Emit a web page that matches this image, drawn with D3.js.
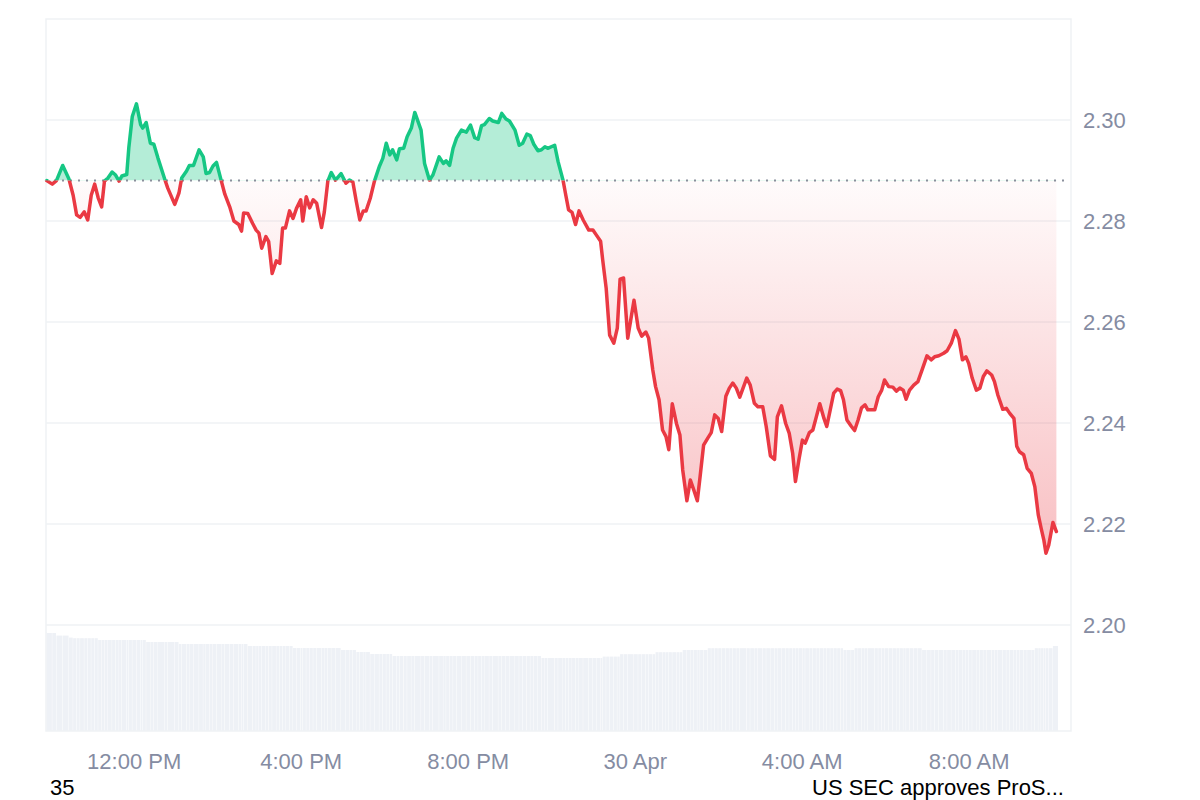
<!DOCTYPE html>
<html>
<head>
<meta charset="utf-8">
<script src="https://cdn.jsdelivr.net/npm/d3@7"></script>
<style>
  html, body { margin: 0; padding: 0; background: #ffffff; }
  svg { display: block; font-family: "Liberation Sans", Arial, sans-serif; }
</style>
</head>
<body>
<svg id="chart" width="1200" height="800"></svg>
<script>
// ---- data ----
const priceTimes = [
"29 09:55","29 10:03","29 10:09","29 10:18","29 10:27","29 10:33","29 10:38","29 10:43","29 10:49","29 10:54",
"29 10:59","29 11:04","29 11:09","29 11:14","29 11:18","29 11:23","29 11:29","29 11:34","29 11:39","29 11:43",
"29 11:50","29 11:53","29 11:58","29 12:04","29 12:10","29 12:13","29 12:18","29 12:24","29 12:29","29 12:35",
"29 12:45","29 12:49","29 12:59","29 13:05","29 13:09","29 13:16","29 13:20","29 13:26","29 13:34","29 13:40",
"29 13:44","29 13:49","29 13:54","29 13:59","29 14:06","29 14:11","29 14:18","29 14:24","29 14:31","29 14:35",
"29 14:38","29 14:44","29 14:51","29 14:56","29 15:00","29 15:04","29 15:10","29 15:14","29 15:19","29 15:25",
"29 15:30","29 15:34","29 15:38","29 15:44","29 15:49","29 15:54","29 16:00","29 16:03","29 16:08","29 16:13",
"29 16:18","29 16:23","29 16:30","29 16:34","29 16:39","29 16:44","29 16:50","29 16:58","29 17:05","29 17:10",
"29 17:15","29 17:20","29 17:25","29 17:30","29 17:34","29 17:40","29 17:46","29 17:53","29 17:58","29 18:03",
"29 18:08","29 18:12","29 18:18","29 18:22","29 18:28","29 18:33","29 18:39","29 18:44","29 18:53","29 18:58",
"29 19:05","29 19:10","29 19:19","29 19:25","29 19:29","29 19:34","29 19:39","29 19:44","29 19:51","29 19:58",
"29 20:04","29 20:10","29 20:15","29 20:20","29 20:24","29 20:31","29 20:36","29 20:44","29 20:49","29 20:55",
"29 21:00","29 21:08","29 21:14","29 21:19","29 21:25","29 21:30","29 21:35","29 21:41","29 21:46","29 21:51",
"29 21:55","29 22:05","29 22:10","29 22:17","29 22:21","29 22:25","29 22:30","29 22:35","29 22:40","29 22:46",
"29 22:54","29 23:00","29 23:05","29 23:11","29 23:14","29 23:19","29 23:24","29 23:30","29 23:35","29 23:39",
"29 23:44","29 23:50","29 23:59","30 00:05","30 00:10","30 00:16","30 00:20","30 00:26","30 00:30","30 00:35",
"30 00:40","30 00:45","30 00:49","30 00:54","30 01:00","30 01:05","30 01:09","30 01:15","30 01:20","30 01:25",
"30 01:30","30 01:34","30 01:39","30 01:45","30 01:50","30 01:55","30 02:00","30 02:05","30 02:11","30 02:16",
"30 02:21","30 02:26","30 02:31","30 02:41","30 02:46","30 02:52","30 02:57","30 03:04","30 03:09","30 03:15",
"30 03:21","30 03:25","30 03:31","30 03:37","30 03:42","30 03:47","30 03:51","30 03:56","30 04:01","30 04:05",
"30 04:11","30 04:16","30 04:21","30 04:26","30 04:32","30 04:36","30 04:41","30 04:46","30 04:51","30 04:56",
"30 05:00","30 05:05","30 05:11","30 05:16","30 05:21","30 05:26","30 05:31","30 05:35","30 05:45","30 05:50",
"30 05:55","30 05:59","30 06:05","30 06:11","30 06:16","30 06:21","30 06:26","30 06:30","30 06:35","30 06:41",
"30 06:47","30 06:53","30 07:00","30 07:06","30 07:11","30 07:17","30 07:24","30 07:29","30 07:35","30 07:41",
"30 07:46","30 07:51","30 07:56","30 08:00","30 08:05","30 08:11","30 08:16","30 08:21","30 08:26","30 08:33",
"30 08:37","30 08:42","30 08:49","30 08:54","30 08:59","30 09:05","30 09:09","30 09:13","30 09:19","30 09:24",
"30 09:30","30 09:35","30 09:40","30 09:44","30 09:48","30 09:51","30 09:55","30 10:01","30 10:06"
];
const prices = [
2.2880,2.2873,2.2880,2.2910,2.2883,2.2851,2.2812,2.2807,2.2818,2.2802,
2.2851,2.2873,2.2846,2.2828,2.2879,2.2885,2.2897,2.2891,2.2879,2.2889,
2.2892,2.2945,2.3007,2.3032,2.2991,2.2984,2.2995,2.2954,2.2952,2.2924,
2.2881,2.2865,2.2833,2.2855,2.2885,2.2899,2.2910,2.2910,2.2941,2.2927,
2.2894,2.2896,2.2909,2.2916,2.2879,2.2853,2.2828,2.2800,2.2793,2.2780,
2.2816,2.2815,2.2795,2.2782,2.2776,2.2746,2.2769,2.2759,2.2696,2.2721,
2.2716,2.2786,2.2786,2.2820,2.2805,2.2825,2.2842,2.2800,2.2848,2.2826,
2.2842,2.2835,2.2787,2.2818,2.2879,2.2896,2.2881,2.2894,2.2875,2.2881,
2.2877,2.2838,2.2802,2.2820,2.2820,2.2845,2.2879,2.2908,2.2924,2.2954,
2.2931,2.2941,2.2921,2.2943,2.2944,2.2967,2.2984,2.3015,2.2980,2.2914,
2.2881,2.2891,2.2927,2.2914,2.2919,2.2910,2.2944,2.2964,2.2980,2.2976,
2.2990,2.2965,2.2962,2.2989,2.2991,2.3003,2.2998,2.2995,2.3013,2.3002,
2.2998,2.2980,2.2950,2.2954,2.2972,2.2969,2.2952,2.2939,2.2941,2.2947,
2.2944,2.2950,2.2917,2.2881,2.2851,2.2822,2.2817,2.2793,2.2820,2.2802,
2.2782,2.2782,2.2772,2.2760,2.2723,2.2667,2.2574,2.2558,2.2588,2.2685,
2.2687,2.2568,2.2643,2.2588,2.2572,2.2580,2.2568,2.2505,2.2472,2.2446,
2.2386,2.2373,2.2347,2.2438,2.2399,2.2376,2.2307,2.2246,2.2287,2.2267,
2.2246,2.2294,2.2356,2.2370,2.2381,2.2416,2.2409,2.2383,2.2453,2.2469,
2.2479,2.2469,2.2451,2.2489,2.2475,2.2439,2.2432,2.2432,2.2393,2.2335,
2.2328,2.2412,2.2434,2.2399,2.2380,2.2340,2.2284,2.2327,2.2366,2.2360,
2.2381,2.2386,2.2412,2.2438,2.2409,2.2393,2.2426,2.2459,2.2467,2.2464,
2.2446,2.2406,2.2394,2.2385,2.2406,2.2430,2.2436,2.2426,2.2426,2.2452,
2.2465,2.2485,2.2472,2.2471,2.2463,2.2469,2.2465,2.2447,2.2465,2.2475,
2.2482,2.2505,2.2533,2.2525,2.2531,2.2533,2.2538,2.2543,2.2558,2.2583,
2.2566,2.2525,2.2531,2.2518,2.2489,2.2465,2.2469,2.2492,2.2503,2.2495,
2.2482,2.2455,2.2427,2.2429,2.2419,2.2409,2.2354,2.2343,2.2337,2.2310,
2.2300,2.2274,2.2218,2.2192,2.2168,2.2142,2.2158,2.2203,2.2185
];
const openPrice = 2.288;

// 24h volume (billions USD), step changes
const volTimes = [
"29 09:53","29 10:02","29 10:16","29 10:29","29 10:38","29 11:11","29 12:23","29 13:07","29 14:47","29 15:53",
"29 17:05","29 17:25","29 17:41","29 18:16","29 21:49","29 23:18","29 23:43","30 00:33","30 01:14","30 01:50",
"30 05:03","30 05:20","30 06:54","30 09:39","30 10:04"
];
const volValues = [
4.97,4.90,4.77,4.67,4.64,4.55,4.45,4.35,4.25,4.15,
4.05,3.95,3.85,3.75,3.65,3.72,3.84,3.94,4.05,4.14,
4.05,4.14,4.05,4.14,4.25
];

const yTickValues = [2.20, 2.22, 2.24, 2.26, 2.28, 2.30];
const xTickTimes = ["29 12:00","29 16:00","29 20:00","30 00:00","30 04:00","30 08:00"];
const xTickLabels = ["12:00 PM","4:00 PM","8:00 PM","30 Apr","4:00 AM","8:00 AM"];
const domainTimes = ["29 09:54","30 10:27"];
const footLeft = "35";
const footRight = "US SEC approves ProS...";

// ---- setup ----
const parse = s => d3.timeParse("%Y-%m-%d %H:%M")("2025-04-" + s);
const data = priceTimes.map((t, i) => ({ t: parse(t), v: prices[i] }));
const vols = volTimes.map((t, i) => ({ t: parse(t), v: volValues[i] }));

const L = 46, R = 1071, T = 19, B = 731;
const FONT = "'Liberation Sans', Arial, sans-serif";
const svg = d3.select("#chart");

const x = d3.scaleTime().domain(domainTimes.map(parse)).range([L, R]);
const y = d3.scaleLinear().domain([2.179, 2.32]).range([B, T]);
const yv = d3.scaleLinear().domain([0, 6]).range([B, B - 120]);

const baseY = y(openPrice);
const GREEN = "#16c784", RED = "#ea3943";

const defs = svg.append("defs");
defs.append("clipPath").attr("id", "clipUp").append("rect")
  .attr("x", 0).attr("y", 0).attr("width", 1200).attr("height", baseY);
defs.append("clipPath").attr("id", "clipDown").append("rect")
  .attr("x", 0).attr("y", baseY).attr("width", 1200).attr("height", 800 - baseY);
const grad = defs.append("linearGradient").attr("id", "redGrad")
  .attr("gradientUnits", "userSpaceOnUse")
  .attr("x1", 0).attr("x2", 0).attr("y1", baseY).attr("y2", y(d3.min(prices)));
grad.append("stop").attr("offset", "0%").attr("stop-color", RED).attr("stop-opacity", 0.02);
grad.append("stop").attr("offset", "100%").attr("stop-color", RED).attr("stop-opacity", 0.32);

// gridlines
svg.append("g").selectAll("line").data(yTickValues).join("line")
  .attr("x1", L).attr("x2", R).attr("y1", d => y(d)).attr("y2", d => y(d))
  .attr("stroke", "#eff2f5").attr("stroke-width", 1.5);

// volume bars
const bis = d3.bisector(d => d.t).right;
const volG = svg.append("g");
data.forEach((d, i) => {
  const t0 = i === 0 ? x.domain()[0] : data[i - 1].t;
  const idx = Math.max(0, bis(vols, d.t) - 1);
  const x0 = x(t0), x1 = x(d.t) + (i === data.length - 1 ? 2 : 0);
  volG.append("rect")
    .attr("x", x0).attr("width", Math.max(0.5, x1 - x0 - 0.4))
    .attr("y", yv(vols[idx].v)).attr("height", B - yv(vols[idx].v))
    .attr("fill", "#eef1f6");
});

// frame
svg.append("rect").attr("x", L).attr("y", T).attr("width", R - L).attr("height", B - T)
  .attr("fill", "none").attr("stroke", "#eff2f5").attr("stroke-width", 1.5);

// areas
const area = d3.area().x(d => x(d.t)).y0(baseY).y1(d => y(d.v));
svg.append("path").datum(data).attr("d", area)
  .attr("fill", GREEN).attr("fill-opacity", 0.32).attr("clip-path", "url(#clipUp)");
svg.append("path").datum(data).attr("d", area)
  .attr("fill", "url(#redGrad)").attr("clip-path", "url(#clipDown)");

// baseline dotted
svg.append("line").attr("x1", L).attr("x2", R - 3).attr("y1", baseY).attr("y2", baseY)
  .attr("stroke", "#8a8f9c").attr("stroke-width", 2).attr("stroke-dasharray", "2,6");

// lines
const line = d3.line().x(d => x(d.t)).y(d => y(d.v));
svg.append("path").datum(data).attr("d", line)
  .attr("fill", "none").attr("stroke", GREEN).attr("stroke-width", 3.5)
  .attr("stroke-linejoin", "round").attr("stroke-linecap", "round").attr("clip-path", "url(#clipUp)");
svg.append("path").datum(data).attr("d", line)
  .attr("fill", "none").attr("stroke", RED).attr("stroke-width", 3.5)
  .attr("stroke-linejoin", "round").attr("stroke-linecap", "round").attr("clip-path", "url(#clipDown)");

// axes
const yAxis = d3.axisRight(y).tickValues(yTickValues).tickFormat(d3.format(".2f")).tickSize(0).tickPadding(12);
const gy = svg.append("g").attr("transform", `translate(${R},0)`).call(yAxis);
gy.select(".domain").remove();
gy.selectAll("text").attr("fill", "#858ca2").style("font-size", "22px").style("font-family", FONT);

const xAxis = d3.axisBottom(x).tickValues(xTickTimes.map(parse))
  .tickFormat((d, i) => xTickLabels[i]).tickSize(0).tickPadding(22);
const gx = svg.append("g").attr("transform", `translate(0,${B})`).call(xAxis);
gx.select(".domain").remove();
gx.selectAll("text").attr("fill", "#858ca2").style("font-size", "22px").style("font-family", FONT);

// footer texts
svg.append("text").attr("x", 50).attr("y", 795).text(footLeft)
  .attr("fill", "#000").style("font-size", "22px").style("font-family", FONT);
svg.append("text").attr("x", 812).attr("y", 795).text(footRight)
  .attr("fill", "#000").style("font-size", "22px").style("font-family", FONT);
</script>
</body>
</html>
